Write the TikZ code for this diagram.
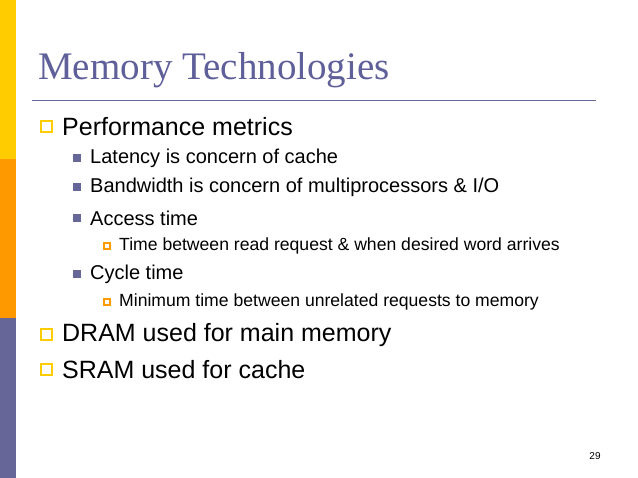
\documentclass[tikz,border=0pt]{standalone}
\usepackage{fontspec}
\setmainfont{Liberation Sans}
\newfontfamily\titlefont{Liberation Serif}
\definecolor{ttl}{HTML}{5F5F9A}
\definecolor{ylw}{HTML}{FFCC00}
\definecolor{org}{HTML}{FF9900}
\definecolor{pur}{HTML}{666699}
\begin{document}
\begin{tikzpicture}[x=1pt,y=-1pt,
  t1/.style={anchor=west,font=\fontsize{25}{28}\selectfont,inner sep=0},
  t2/.style={anchor=west,font=\fontsize{20}{23}\selectfont,inner sep=0},
  t3/.style={anchor=west,font=\fontsize{17.6}{20}\selectfont,inner sep=0},
  b1/.style={draw=ylw,line width=2pt,minimum size=11pt,inner sep=0},
  b2/.style={fill=pur,minimum size=8pt,inner sep=0},
  b3/.style={draw=org,line width=1.3pt,minimum size=6pt,inner sep=0}]
\useasboundingbox (0,0) rectangle (638,478);
\fill[white] (0,0) rectangle (638,478);
\fill[ylw] (0,0) rectangle (16,159);
\fill[org] (0,159) rectangle (16,318);
\fill[pur] (0,318) rectangle (16,478);
\node[anchor=base west,inner sep=0,text=ttl,font=\titlefont\fontsize{39}{42}\selectfont] (title) at (38,80) {Memory Technologies};
\draw[pur,line width=1pt] (32,101) -- (596,101);
\node[b1] (p1) at (46,127) {}; \node[t1] (l1) at (62,127) {Performance metrics};
\node[b2] (p2) at (77,158) {}; \node[t2] (l2) at (90,158) {Latency is concern of cache};
\node[b2] (p3) at (77,187) {}; \node[t2] (l3) at (90,187) {Bandwidth is concern of multiprocessors \& I/O};
\node[b2] (p4) at (77,218) {}; \node[t2] (l4) at (90,218) {Access time};
\node[b3] (p5) at (107,246) {}; \node[t3] (l5) at (119,246) {Time between read request \& when desired word arrives};
\node[b2] (p6) at (77,274) {}; \node[t2] (l6) at (90,274) {Cycle time};
\node[b3] (p7) at (107,302) {}; \node[t3] (l7) at (119,302) {Minimum time between unrelated requests to memory};
\node[b1] (p8) at (46,335) {}; \node[t1] (l8) at (62,335) {DRAM used for main memory};
\node[b1] (p9) at (46,370) {}; \node[t1] (l9) at (62,370) {SRAM used for cache};
\node[font=\fontsize{10}{11}\selectfont,inner sep=0] (pg) at (595,456) {29};
\end{tikzpicture}
\end{document}
